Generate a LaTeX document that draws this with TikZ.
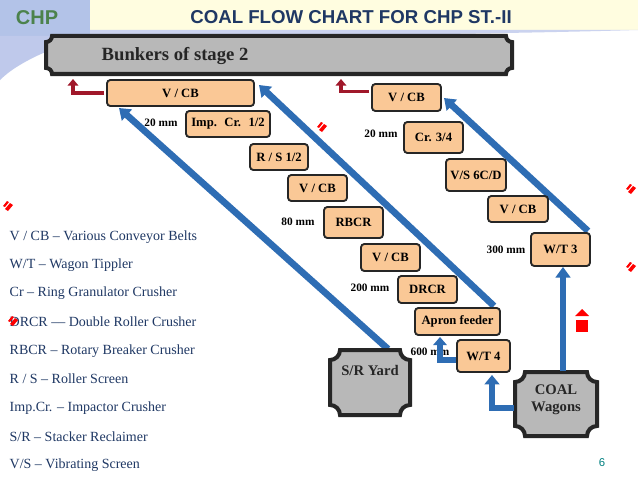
\documentclass[tikz,border=0pt]{standalone}
\usepackage{fontspec}
\setmainfont{Liberation Serif}
\newfontfamily\sans{Liberation Sans}
\usetikzlibrary{fit,arrows.meta}
\definecolor{org}{HTML}{FAC896}
\definecolor{flow}{HTML}{2E6DB4}
\definecolor{leg}{HTML}{1F3864}
\definecolor{dred}{HTML}{A0182A}
\tikzset{
 box/.style={draw=black!85,line width=1.4pt,fill=org,rounded corners=2.5pt,inner sep=0pt},
 btxt/.style={font=\bfseries\fontsize{9.5}{10}\selectfont},
 mm/.style={font=\bfseries\fontsize{8.5}{9}\selectfont},
 fl/.style={draw=flow,line width=5pt,-{Triangle[length=8pt,width=11pt]}},
 rl/.style={draw=dred,line width=2.5pt,-{Triangle[length=5pt,width=8pt]}},
 legt/.style={anchor=west,text=leg,font=\fontsize{10.5}{12}\selectfont},
 notch/.style={draw=black!85,line width=3pt,fill=black!28},
}
\newcommand\bx[6]{\path (#2,#3) coordinate (#1a) (#4,#5) coordinate (#1b);
 \node[box,fit=(#1a)(#1b),label={[btxt]center:#6}] (#1) {};}
\newcommand\notchshape[5]{% x1 y1 x2 y2 r
 \draw[notch] (#1+#5,#2) -- (#3-#5,#2) arc[start angle=180,end angle=270,radius=#5*0.75pt]
 -- (#3,#4-#5) arc[start angle=90,end angle=180,radius=#5*0.75pt]
 -- (#1+#5,#4) arc[start angle=0,end angle=90,radius=#5*0.75pt]
 -- (#1,#2+#5) arc[start angle=270,end angle=360,radius=#5*0.75pt] -- cycle;}
\newcommand\redmark[2]{\fill[red] (#1-4,#2+2) -- (#1+1,#2-4) -- (#1+4,#2-2) -- (#1-1,#2+4) -- cycle;
 \fill[red] (#1-6,#2-1) -- (#1-2,#2-6) -- (#1,#2-5) -- (#1-4,#2) -- cycle;}
\begin{document}
\begin{tikzpicture}[x=0.75pt,y=-0.75pt]
\useasboundingbox (0,0) rectangle (638,478);
\fill[white] (0,0) rectangle (638,478);
% header
\fill[yellow!12] (90,0) rectangle (638,30);
\fill[cyan!45!blue!30] (0,0) rectangle (90,36);
\fill[cyan!40!blue!25] (0,36) -- (90,36) .. controls (60,45) and (20,60) .. (0,80) -- cycle;
\fill[cyan!40!blue!20] (90,30) -- (638,30) .. controls (500,34) and (300,36) .. (90,38) -- cycle;
\node[font=\sans\bfseries\fontsize{15}{16}\selectfont,text=green!30!black!70] (chp) at (37,18) {CHP};
\node[font=\sans\bfseries\fontsize{14}{16}\selectfont,text=leg] (ttl) at (351,17) {COAL FLOW CHART FOR CHP ST.-II};
% flows (behind boxes)
\coordinate (srtop) at (388,349);
\coordinate (coaltop) at (563,371);
\coordinate (coalleft) at (514,408);
\coordinate (e1) at (119,108);
\coordinate (s2) at (494,306);
\coordinate (e2) at (259,85);
\coordinate (s3) at (588,231);
\coordinate (e3) at (444,98);
\draw[fl] (srtop) -- (e1);
\draw[fl] (s2) -- (e2);
\draw[fl] (s3) -- (e3);
% bunkers
\notchshape{46}{36}{512}{74}{6}
\node[anchor=west,font=\bfseries\fontsize{14}{16}\selectfont,text=black!85] (bunk) at (97,56) {Bunkers of stage 2};
% left column
\bx{vcb1}{107}{80}{254}{106}{V / CB}
\bx{imp}{186}{111}{270}{137}{Imp.~ Cr.~ 1/2}
\bx{rs}{250}{144}{308}{170}{R / S 1/2}
\bx{vcb2}{288}{175}{347}{201}{V / CB}
\bx{rbcr}{324}{207}{383}{238}{RBCR}
\bx{vcb3}{361}{244}{420}{271}{V / CB}
\bx{drcr}{398}{276}{457}{303}{DRCR}
\bx{apron}{415}{308}{500}{335}{Apron feeder}
\bx{wt4}{457}{340}{510}{372}{W/T 4}
% right column
\bx{vcbr}{372}{84}{441}{111}{V / CB}
\bx{cr}{404}{122}{463}{153}{Cr. 3/4}
\bx{vs}{446}{159}{506}{191}{V/S 6C/D}
\bx{vcbr2}{488}{196}{548}{222}{V / CB}
\bx{wt3}{531}{233}{590}{266}{W/T 3}
% mm labels
\node[mm] (m1) at (161,123) {20 mm};
\node[mm] (m2) at (381,134) {20 mm};
\node[mm] (m3) at (298,222) {80 mm};
\node[mm] (m4) at (370,288) {200 mm};
\node[mm] (m5) at (430,352) {600 mm};
\node[mm] (m6) at (506,250) {300 mm};
% gray blocks
\notchshape{330}{350}{410}{415}{10}
\node[font=\bfseries\fontsize{11}{13}\selectfont,text=black!85] (sr) at (370,370) {S/R Yard};
\notchshape{515}{372}{597}{436}{10}
\node[font=\bfseries\fontsize{11}{13}\selectfont,text=black!85,align=center] (coal) at (556,400) {COAL\\Wagons};
\draw[fl] (coaltop) -- (coaltop |- wt3.south);
\draw[flow,line width=4.5pt,-{Triangle[length=7pt,width=11pt]}] (coalleft) -| (492,375);
\draw[flow,line width=4pt,-{Triangle[length=6pt,width=10pt]}] (wt4.west) ++(0,4) -| (440,337);
% red elbows
\draw[rl] (vcb1.west) ++(-2,0) -| (73,79);
\draw[rl] (vcbr.west) ++(-2,-6) -| (341,79);
% red marks
\redmark{323}{128}
\redmark{9}{207}
\redmark{632}{190}
\redmark{632}{268}
\fill[red] (576,320) rectangle (588,332);
\fill[red] (575,316) -- (582,309) -- (589,316) -- cycle;
% legend
\node[legt] (l1) at (5,237) {V / CB – Various Conveyor Belts};
\node[legt] (l2) at (5,265) {W/T – Wagon Tippler};
\node[legt] (l3) at (5,293) {Cr – Ring Granulator Crusher};
\node[legt] (l4) at (5,322) {DRCR –– Double Roller Crusher};
\node[legt] (l5) at (5,351) {RBCR – Rotary Breaker Crusher};
\node[legt] (l6) at (5,379) {R / S – Roller Screen};
\node[legt] (l7) at (5,408) {Imp.Cr. – Impactor Crusher};
\node[legt] (l8) at (5,437) {S/R – Stacker Reclaimer};
\node[legt] (l9) at (5,465) {V/S – Vibrating Screen};
\redmark{14}{322}
\node[font=\sans\fontsize{8.5}{9}\selectfont,text=teal] (pg) at (602,463) {6};
\end{tikzpicture}
\end{document}
